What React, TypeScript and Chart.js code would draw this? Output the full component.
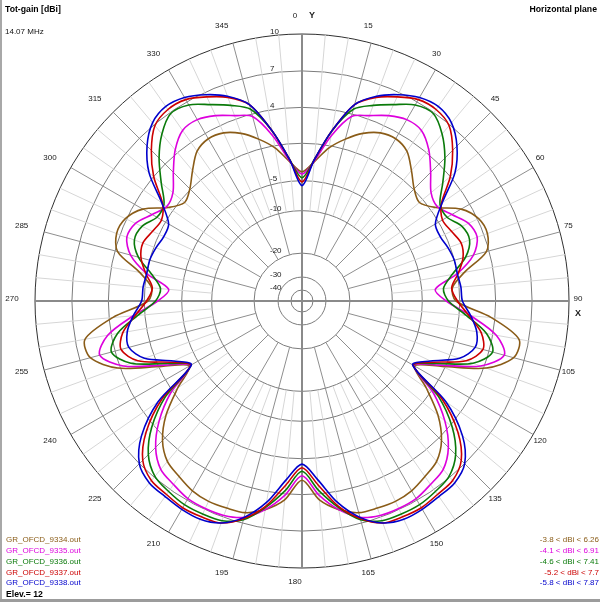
import React, { useEffect, useRef } from 'react';
import { Chart, registerables, RadialLinearScale } from 'chart.js';

Chart.register(...registerables);

// ---- categories (azimuth, degrees, clockwise from Y) ----
const azimuths = [
  0, 5, 10, 15, 20, 25, 30, 35, 40, 45, 50, 55, 60, 65, 70, 75, 80, 85,
  90, 95, 100, 105, 110, 115, 120, 125, 130, 135, 140, 145, 150, 155, 160, 165, 170, 175,
  180, 185, 190, 195, 200, 205, 210, 215, 220, 225, 230, 235, 240, 245, 250, 255, 260, 265,
  270, 275, 280, 285, 290, 295, 300, 305, 310, 315, 320, 325, 330, 335, 340, 345, 350, 355,
];

// ---- series (total gain, dBi) ----
const gain9334 = [
  -3.8, -2.4, -0.3, 1.1, 2.3, 3.1, 3.3, 2.8, 1.4, 0.1, -0.6, 0.6, 2.9, 4.1, 4.3, 3.7, 0.8, -0.9,
  -0.5, 3.6, 6.2, 6.1, 4.2, -0.4, -3.7, -0.8, 2.2, 4.3, 5.3, 5.7, 6.1, 6.26, 6.2, 6.1, 5.5, 4.5,
  2.4, 4.5, 5.5, 6.1, 6.2, 6.26, 6.1, 5.7, 5.3, 4.3, 2.2, -0.8, -3.7, -0.4, 4.2, 6.1, 6.2, 3.6,
  -0.5, -0.9, 0.8, 3.7, 4.3, 4.1, 2.9, 0.6, -0.6, 0.1, 1.4, 2.8, 3.3, 3.1, 2.3, 1.1, -0.3, -2.4,
];
const gain9335 = [
  -4.1, -2.3, 1.1, 3.7, 4.3, 4.9, 5.3, 5.2, 4.3, 2.7, 1.2, 0.8, 1.7, 2.9, 3.2, 2.2, 0.0, -3.2,
  -1.8, 1.3, 4.3, 5.3, 3.6, -0.8, -3.8, 0.3, 3.2, 5.1, 6.15, 6.5, 6.85, 6.91, 6.85, 6.5, 5.5, 4.1,
  1.9, 4.1, 5.5, 6.5, 6.85, 6.91, 6.85, 6.5, 6.15, 5.1, 3.2, 0.3, -3.8, -0.8, 3.6, 5.3, 4.3, 1.3,
  -1.8, -3.2, 0.0, 2.2, 3.2, 2.9, 1.7, 0.8, 1.2, 2.7, 4.3, 5.2, 5.3, 4.9, 4.3, 3.7, 1.1, -2.3,
];
const gain9336 = [
  -4.6, -2.1, 1.7, 4.4, 5.2, 5.9, 6.7, 6.9, 6.0, 4.7, 2.9, 1.2, 1.1, 2.1, 2.3, 1.3, -0.7, -2.1,
  -1.5, 0.8, 3.3, 4.3, 2.7, -1.3, -3.9, 1.0, 4.2, 5.95, 6.9, 7.2, 7.41, 7.4, 7.3, 6.7, 5.3, 3.6,
  1.4, 3.6, 5.3, 6.7, 7.3, 7.4, 7.41, 7.2, 6.9, 5.95, 4.2, 1.0, -3.9, -1.3, 2.7, 4.3, 3.3, 0.8,
  -1.5, -2.1, -0.7, 1.3, 2.3, 2.1, 1.1, 1.2, 2.9, 4.7, 6.0, 6.9, 6.7, 5.9, 5.2, 4.4, 1.7, -2.1,
];
const gain9337 = [
  -5.2, -2.1, 1.7, 4.8, 5.9, 6.6, 7.2, 7.3, 6.9, 5.6, 4.0, 1.4, 0.5, 0.8, 1.3, 1.0, 0.1, -1.0,
  -0.3, 1.1, 2.7, 3.3, 1.9, -1.7, -3.9, 1.5, 4.8, 6.6, 7.35, 7.5, 7.7, 7.65, 7.5, 6.6, 5.2, 3.0,
  1.0, 3.0, 5.2, 6.6, 7.5, 7.65, 7.7, 7.5, 7.35, 6.6, 4.8, 1.5, -3.9, -1.7, 1.9, 3.3, 2.7, 1.1,
  -0.3, -1.0, 0.1, 1.0, 1.3, 0.8, 0.5, 1.4, 4.0, 5.6, 6.9, 7.3, 7.2, 6.6, 5.9, 4.8, 1.7, -2.1,
];
const gain9338 = [
  -5.8, -2.1, 1.7, 4.8, 6.0, 6.8, 7.4, 7.6, 7.2, 6.1, 4.5, 1.5, -0.5, -0.7, -0.3, 0.0, 0.0, 0.2,
  0.3, 1.3, 2.2, 2.4, 1.1, -2.1, -4.0, 2.0, 5.3, 7.0, 7.6, 7.7, 7.85, 7.87, 7.5, 6.5, 4.9, 2.4,
  0.6, 2.4, 4.9, 6.5, 7.5, 7.87, 7.85, 7.7, 7.6, 7.0, 5.3, 2.0, -4.0, -2.1, 1.1, 2.4, 2.2, 1.3,
  0.3, 0.2, 0.0, 0.0, -0.3, -0.7, -0.5, 1.5, 4.5, 6.1, 7.2, 7.6, 7.4, 6.8, 6.0, 4.8, 1.7, -2.1,
];

const seriesNames = ['GR_OFCD_9334.out', 'GR_OFCD_9335.out', 'GR_OFCD_9336.out', 'GR_OFCD_9337.out', 'GR_OFCD_9338.out'];
const seriesData = [gain9334, gain9335, gain9336, gain9337, gain9338];
const seriesColors = ['#8a5c18', '#dd00dd', '#0a7a0a', '#cc0000', '#0000cc'];
const rangeLabels = ['-3.8 < dBi < 6.26', '-4.1 < dBi < 6.91', '-4.6 < dBi < 7.41', '-5.2 < dBi < 7.7', '-5.8 < dBi < 7.87'];

// ---- radial (dB) scale rings and their labels ----
const ringValues = [-40, -30, -20, -10, -5, 0, 4, 7, 10];
const ringLabels = ['-40', '-30', '-20', '-10', '-5', '', '4', '7', '10'];
// compressed (log-like) radius of each ring, as fraction of the outer ring
const ringFractions = [0.0411, 0.0897, 0.1794, 0.3383, 0.4505, 0.5907, 0.7252, 0.8617, 1];
const angleTickStep = 15;

function dbToFraction(v: number): number {
  const n = ringValues.length;
  if (v <= ringValues[0]) return Math.max(0, ringFractions[0] + (v - ringValues[0]) * 0.004);
  for (let i = 1; i < n; i++) {
    if (v <= ringValues[i]) {
      const t = (v - ringValues[i - 1]) / (ringValues[i] - ringValues[i - 1]);
      return ringFractions[i - 1] + t * (ringFractions[i] - ringFractions[i - 1]);
    }
  }
  return 1 + (v - ringValues[n - 1]) * 0.046;
}

class ArrlRadialScale extends (RadialLinearScale as any) {
  static id = 'arrlRadial';
  getDistanceFromCenterForValue(value: number) {
    if (value === null || value === undefined || isNaN(value)) return NaN;
    return this.drawingArea * dbToFraction(value);
  }
}
Chart.register(ArrlRadialScale as any);

const FONT = '"Liberation Sans", Arial, sans-serif';

const polarDecor = {
  id: 'polarDecor',
  beforeDatasetsDraw(chart: any) {
    const s = chart.scales.r;
    const ctx = chart.ctx as CanvasRenderingContext2D;
    const R = s.drawingArea;
    ctx.save();
    // radial spokes every 5 deg (major every 15 deg)
    azimuths.forEach((a, i) => {
      if (a % 90 === 0) return;
      const major = a % angleTickStep === 0;
      const r0 = s.getDistanceFromCenterForValue(major ? -20 : -10);
      const p0 = s.getPointPosition(i, r0);
      const p1 = s.getPointPosition(i, R);
      ctx.strokeStyle = major ? '#8e8e8e' : '#d6d6d6';
      ctx.lineWidth = 1;
      ctx.beginPath();
      ctx.moveTo(p0.x, p0.y);
      ctx.lineTo(p1.x, p1.y);
      ctx.stroke();
    });
    // X / Y axes
    const idx = (deg: number) => azimuths.indexOf(deg);
    ctx.strokeStyle = '#8a8a8a';
    ctx.lineWidth = 2;
    [[0, 180], [90, 270]].forEach(([a, b]) => {
      const p = s.getPointPosition(idx(a), R);
      const q = s.getPointPosition(idx(b), R);
      ctx.beginPath();
      ctx.moveTo(p.x, p.y);
      ctx.lineTo(q.x, q.y);
      ctx.stroke();
    });
    // dB ring labels
    ctx.fillStyle = '#1a1a1a';
    ctx.font = '8px ' + FONT;
    ctx.textAlign = 'left';
    ctx.textBaseline = 'middle';
    ringValues.forEach((v, i) => {
      if (!ringLabels[i]) return;
      const d = s.getDistanceFromCenterForValue(v);
      ctx.fillText(ringLabels[i], s.xCenter - 32, s.yCenter - d - 2);
    });
    // azimuth labels
    ctx.textAlign = 'center';
    azimuths.forEach((a, i) => {
      if (a % angleTickStep !== 0) return;
      const p = s.getPointPosition(i, R + 16);
      ctx.fillText(String(a), p.x - 7, p.y - 2);
    });
    ctx.font = 'bold 9px ' + FONT;
    const py = s.getPointPosition(idx(0), R + 16);
    ctx.fillText('Y', py.x + 10, py.y - 2);
    const px = s.getPointPosition(idx(90), R + 16);
    ctx.fillText('X', px.x - 7, px.y + 13);
    ctx.restore();
  },
};

export default function App() {
  const ref = useRef<HTMLCanvasElement>(null);
  useEffect(() => {
    const chart = new Chart(ref.current as HTMLCanvasElement, {
      type: 'radar',
      data: {
        labels: azimuths.map(String),
        datasets: seriesData.map((d, i) => ({
          label: seriesNames[i],
          data: d,
          borderColor: seriesColors[i],
          backgroundColor: 'transparent',
          borderWidth: 1.6,
          fill: false,
          pointRadius: 0,
          tension: 0.3,
        })).reverse(),
      },
      options: {
        animation: false,
        responsive: false,
        events: [],
        layout: { padding: { left: 35, top: 34, right: 31, bottom: 34 } },
        plugins: { legend: { display: false }, tooltip: { enabled: false } },
        scales: {
          r: {
            type: 'arrlRadial',
            min: -45,
            max: 10,
            afterBuildTicks: (sc: any) => {
              sc.ticks = ringValues.map((v) => ({ value: v }));
            },
            ticks: { display: false },
            pointLabels: { display: false },
            angleLines: { display: false },
            grid: {
              circular: true,
              lineWidth: 1,
              color: (c: any) => (c.tick && c.tick.value === 10 ? '#303030' : '#7c7c7c'),
            },
          } as any,
        },
      } as any,
      plugins: [polarDecor],
    });
    return () => chart.destroy();
  }, []);

  const txt = (extra: React.CSSProperties): React.CSSProperties => ({
    position: 'absolute',
    whiteSpace: 'nowrap',
    fontFamily: FONT,
    fontSize: 8,
    lineHeight: '11px',
    ...extra,
  });
  const legendY = [534, 544.5, 555.5, 566.5, 577];

  return (
    <div style={{ position: 'absolute', left: 0, top: 0, width: 600, height: 602, background: '#fff', overflow: 'hidden' }}>
      <canvas ref={ref} width={600} height={602} style={{ position: 'absolute', left: 0, top: 0, width: 600, height: 602 }} />
      <div style={txt({ left: 5, top: 4, fontWeight: 'bold', fontSize: 8.7, color: '#000' })}>Tot-gain [dBi]</div>
      <div style={txt({ left: 5, top: 25.5, color: '#111' })}>14.07 MHz</div>
      <div style={txt({ right: 3, top: 3.5, fontWeight: 'bold', fontSize: 8.7, color: '#000' })}>Horizontal plane</div>
      {seriesNames.map((n, i) => (
        <div key={n} style={txt({ left: 6, top: legendY[i], color: seriesColors[i] })}>{n}</div>
      ))}
      {rangeLabels.map((t, i) => (
        <div key={t} style={txt({ right: 1, top: legendY[i], color: seriesColors[i] })}>{t}</div>
      ))}
      <div style={txt({ left: 6, top: 588.5, fontWeight: 'bold', fontSize: 8.7, color: '#000' })}>Elev.= 12</div>
      <div style={{ position: 'absolute', left: 0, top: 0, width: 2, height: 602, background: '#a8a8a8' }} />
      <div style={{ position: 'absolute', left: 0, top: 599, width: 600, height: 3, background: '#9c9c9c' }} />
    </div>
  );
}
